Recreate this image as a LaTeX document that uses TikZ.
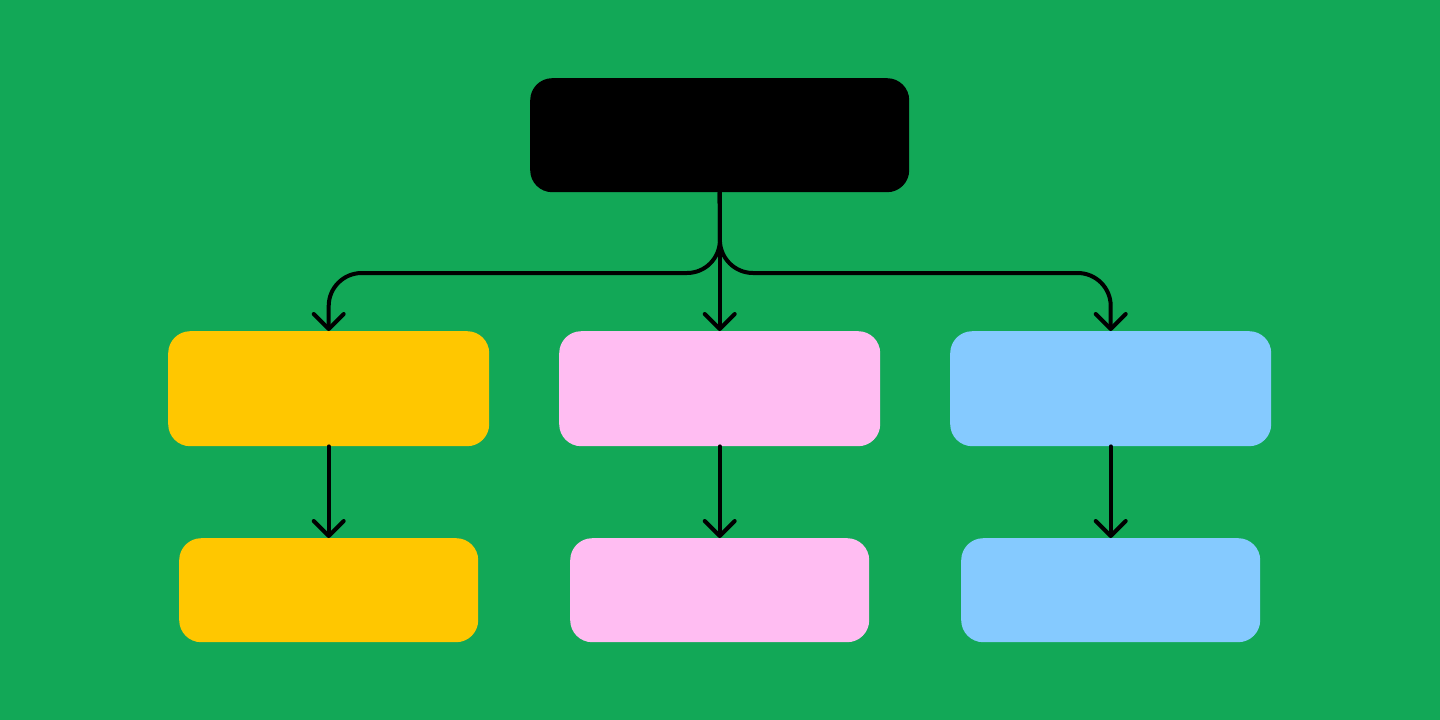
\documentclass[tikz,border=0pt]{standalone}
\usetikzlibrary{arrows.meta}
\definecolor{bg}{RGB}{18,168,87}
\definecolor{cyel}{RGB}{255,199,0}
\definecolor{cpink}{RGB}{255,189,242}
\definecolor{cblue}{RGB}{133,202,255}
\begin{document}
\begin{tikzpicture}[x=1pt,y=-1pt,
  card/.style={inner sep=0pt, rounded corners=22pt, anchor=north west},
  arr/.style={line width=4pt, line cap=round, line join=round,
    -{Straight Barb[length=15pt,width=30pt,round]}}]
\fill[bg] (0,0) rectangle (1440,720);
\useasboundingbox (0,0) rectangle (1440,720);
\node[card, fill=black, minimum width=379pt, minimum height=114pt] (top) at (530,78) {};
\node[card, fill=cyel, minimum width=321pt, minimum height=115pt] (m1) at (168,331) {};
\node[card, fill=cpink, minimum width=321pt, minimum height=115pt] (m2) at (559,331) {};
\node[card, fill=cblue, minimum width=321pt, minimum height=115pt] (m3) at (950,331) {};
\node[card, fill=cyel, minimum width=299pt, minimum height=104pt] (b1) at (179,538) {};
\node[card, fill=cpink, minimum width=299pt, minimum height=104pt] (b2) at (570,538) {};
\node[card, fill=cblue, minimum width=299pt, minimum height=104pt] (b3) at (961,538) {};
\coordinate (j) at (720,273);
\draw[arr, rounded corners=33pt] (top.south) -- (j) -| (m1.north);
\draw[arr, rounded corners=33pt] (top.south) -- (j) -| (m3.north);
\draw[arr] (top.south) -- (m2.north);
\draw[arr] (m1.south) -- (b1.north);
\draw[arr] (m2.south) -- (b2.north);
\draw[arr] (m3.south) -- (b3.north);
\end{tikzpicture}
\end{document}
